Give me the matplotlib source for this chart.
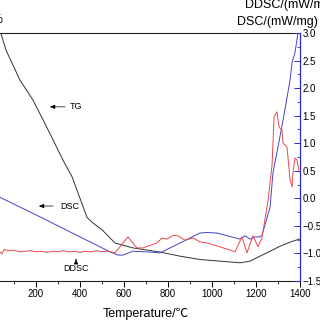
import matplotlib
matplotlib.use("Agg")
import matplotlib.pyplot as plt

plt.rcParams['font.family'] = ['Liberation Sans', 'Noto Sans CJK SC']

# TG (mass, %) vs temperature
tg_temp = [30, 40, 64, 127, 186, 232, 277, 323, 364, 432, 455, 500, 559, 641, 764,
           855, 945, 1082, 1127, 1173, 1218, 1264, 1309, 1355, 1400]
tg_mass = [101.0, 100.0, 97.9, 94.3, 91.9, 89.5, 87.1, 84.6, 82.6, 77.7, 77.1, 76.2,
           74.6, 74.0, 73.5, 73.0, 72.6, 72.3, 72.2, 72.4, 73.0, 73.6, 74.2, 74.7, 75.1]

# DSC (mW/mg)
dsc_temp = [30, 200, 400, 536, 573, 595, 641, 700, 764, 850, 945, 977, 1023, 1127,
            1150, 1173, 1195, 1218, 1227, 1264, 1277, 1300, 1323, 1355, 1364, 1377,
            1391, 1400]
dsc_val = [0.03, -0.30, -0.70, -0.97, -1.03, -1.03, -0.96, -0.97, -0.99, -0.82, -0.63,
           -0.62, -0.63, -0.74, -0.68, -0.74, -0.70, -0.70, -0.67, -0.16, 0.46, 0.93,
           1.42, 2.15, 2.47, 2.64, 3.0, 3.2]

# DDSC (mW/mg/min)
ddsc_temp = [36, 45, 55, 75, 100, 125, 150, 175, 200, 225, 250, 275, 300, 325, 350,
             375, 400, 425, 450, 475, 500, 525, 559, 618, 659, 686, 750, 773, 795, 823,
             845, 877, 914, 945, 977, 1036, 1082, 1105, 1136, 1159, 1186, 1209, 1227,
             1255, 1273, 1282, 1295, 1305, 1318, 1323, 1341, 1355, 1364, 1368, 1377,
             1386, 1395]
ddsc_val = [-0.97, -1.01, -0.93, -0.95, -0.94, -0.97, -0.96, -0.95, -0.97, -0.96, -0.98,
            -0.96, -0.97, -0.95, -0.97, -0.96, -0.98, -0.96, -0.97, -0.95, -0.97, -0.96,
            -0.99, -0.70, -0.90, -0.90, -0.81, -0.72, -0.74, -0.67, -0.68, -0.76, -0.72,
            -0.79, -0.81, -0.88, -0.94, -0.97, -0.70, -0.99, -0.68, -0.88, -0.72, -0.03,
            0.60, 1.48, 1.57, 1.29, 1.24, 1.00, 0.93, 0.33, 0.21, 0.46, 0.73, 0.70, 0.51]

x_ticks = [200, 400, 600, 800, 1000, 1200, 1400]
y2_ticks = [-1.5, -1.0, -0.5, 0.0, 0.5, 1.0, 1.5, 2.0, 2.5, 3.0]

fig = plt.figure(figsize=(3.2, 3.2), dpi=100)
ax = fig.add_axes([-0.025, 0.1219, 0.9625, 0.775])
ax2 = ax.twinx()

ax.plot(tg_temp, tg_mass, color='#333333', lw=0.7)
ax2.plot(dsc_temp, dsc_val, color='#4444cc', lw=0.7)
ax2.plot(ddsc_temp, ddsc_val, color='#e8484c', lw=0.7)

ax.set_xlim(0, 1400)
ax.set_ylim(70, 100)
ax2.set_ylim(-1.5, 3.0)

ax.set_xticks(x_ticks)
ax.set_xticks(range(100, 1400, 200), minor=True)
ax.tick_params(axis='x', which='major', direction='out', length=4, width=0.7,
               labelsize=7, pad=2)
ax.tick_params(axis='x', which='minor', direction='out', length=2.5, width=0.6)
ax.tick_params(axis='y', left=False, labelleft=False, right=False)

ax2.set_yticks(y2_ticks)
ax2.set_yticks([v + 0.25 for v in y2_ticks[:-1]], minor=True)
ax2.tick_params(axis='y', which='major', direction='in', length=4, width=0.7,
                colors='#2a2ad0', labelcolor='black', labelsize=7, pad=2)
ax2.tick_params(axis='y', which='minor', direction='in', length=2.5, width=0.6,
                colors='#2a2ad0')

for s in ['top', 'bottom']:
    ax.spines[s].set_linewidth(0.8)
    ax.spines[s].set_color('#222222')
ax.spines['right'].set_visible(False)
for s in ['top', 'bottom', 'left']:
    ax2.spines[s].set_visible(False)
ax2.spines['right'].set_color('#2a2ad0')
ax2.spines['right'].set_linewidth(0.9)

ax.set_xlabel('Temperature/℃', fontsize=9, labelpad=6)

# curve labels with arrows
arrow = dict(arrowstyle='-|>,head_length=0.3,head_width=0.12', color='black', lw=0.5)
ax2.annotate('', xy=(250, 1.66), xytext=(345, 1.66), arrowprops=arrow)
ax2.text(355, 1.66, 'TG', fontsize=6.5, va='center', ha='left')
ax2.annotate('', xy=(200, -0.14), xytext=(291, -0.14), arrowprops=arrow)
ax2.text(309, -0.14, 'DSC', fontsize=6.5, va='center', ha='left')
ax2.annotate('', xy=(382, -1.05), xytext=(382, -1.16), arrowprops=arrow)
ax2.text(382, -1.28, 'DDSC', fontsize=6.5, va='center', ha='center')

fig.text(0.7656, 0.984, 'DDSC/(mW/mg/min)', fontsize=9, va='center', ha='left')
fig.text(0.7406, 0.931, 'DSC/(mW/mg)', fontsize=9, va='center', ha='left')
fig.text(0.0125, 0.937, 'TG/%', fontsize=9, va='center', ha='right')

fig.savefig('out.png', dpi=100)
